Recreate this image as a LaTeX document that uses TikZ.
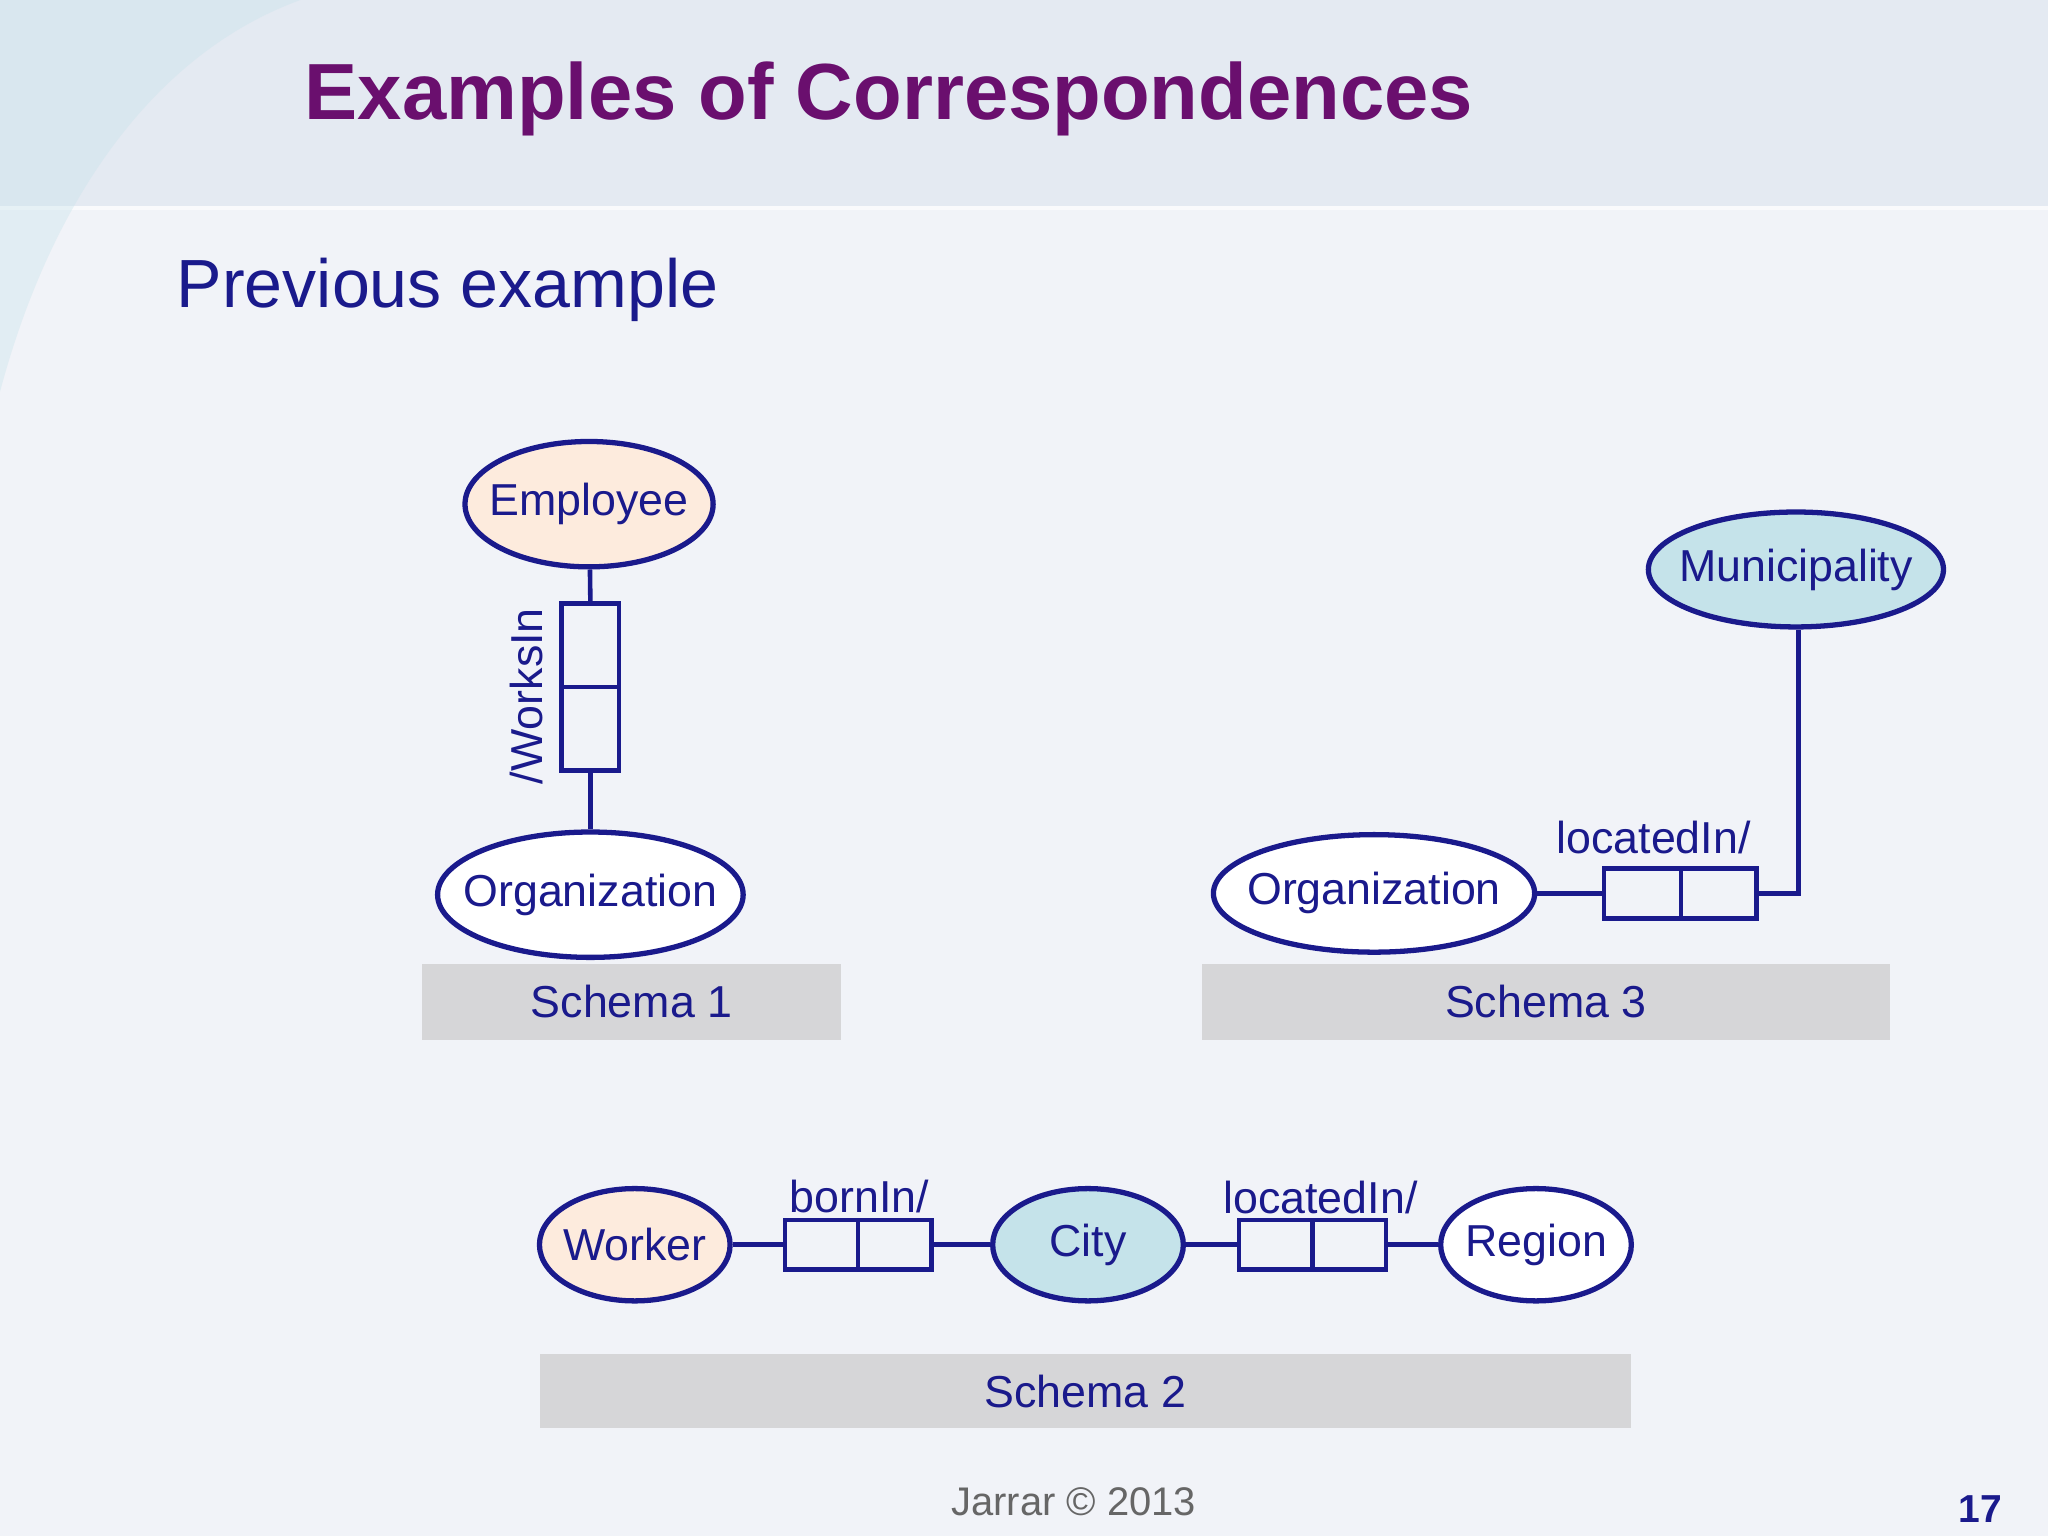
\documentclass[tikz,border=0pt]{standalone}
\usepackage{fontspec}
\setmainfont{Liberation Sans}
\usetikzlibrary{shapes.geometric}
\definecolor{navy}{HTML}{1A1A8C}
\definecolor{ttl}{HTML}{6A0F6E}
\definecolor{peach}{HTML}{FDEBDD}
\definecolor{lblue}{HTML}{C5E3EA}
\definecolor{bg}{HTML}{F1F3F8}
\definecolor{band}{HTML}{E4EAF2}
\definecolor{gbar}{HTML}{D6D6D8}
\tikzset{
 ent/.style={ellipse,draw=navy,line width=2.3pt,inner xsep=-20pt,inner ysep=-8pt,text=navy,font=\fontsize{19.5}{22}\selectfont},
 cellh/.style={rectangle,draw=navy,line width=2pt,minimum width=1.12cm,minimum height=0.76cm,inner sep=0},
 cellv/.style={rectangle,draw=navy,line width=2pt,minimum width=0.88cm,minimum height=1.28cm,inner sep=0},
 conn/.style={draw=navy,line width=2pt},
 lbl/.style={text=navy,font=\fontsize{19.5}{22}\selectfont,inner sep=0},
 schema/.style={fill=gbar,text=navy,font=\fontsize{19.5}{22}\selectfont,inner sep=0}
}
\begin{document}
\begin{tikzpicture}[x=0.02cm,y=-0.02cm]
\fill[bg] (0,0) rectangle (1568,1176);
\fill[band] (0,0) rectangle (1568,158);
\fill[white,opacity=0.6] (0,158) rectangle (1568,161);
\fill[lblue,opacity=0.35] (0,300) .. controls (40,150) and (120,40) .. (230,0) -- (0,0) -- cycle;
\node[text=ttl,font=\bfseries\fontsize{34.7}{40}\selectfont,anchor=west,inner sep=0] (title) at (233,76) {Examples of Correspondences};
\node[text=navy,font=\fontsize{29.7}{34}\selectfont,anchor=west,inner sep=0] (sub) at (135,222) {Previous example};
% Schema 1
\node[ent,fill=peach,minimum width=3.8cm,minimum height=1.92cm] (emp) at (451,386) {Employee};
\node[ent,fill=white,minimum width=4.68cm,minimum height=1.92cm] (org1) at (452,685) {Organization};
\node[cellv] (w1) at (452,494) {};
\node[cellv] (w2) at (452,558) {};
\draw[conn] (emp) -- (w1.north);
\draw[conn] (w2.south) -- (org1);
\node[lbl,rotate=90] (wl) at (403,533) {/WorksIn};
\node[schema,minimum width=6.42cm,minimum height=1.16cm] (s1) at (483.5,767) {Schema 1};
% Schema 3
\node[ent,fill=lblue,minimum width=4.52cm,minimum height=1.76cm] (mun) at (1375,436) {Municipality};
\node[ent,fill=white,minimum width=4.92cm,minimum height=1.8cm] (org3) at (1052,684) {Organization};
\node[cellh,minimum width=1.18cm] (l1) at (1257.5,684) {};
\node[cellh,minimum width=1.16cm] (l2) at (1316,684) {};
\coordinate (corner) at (1377,684);
\draw[conn] (org3) -- (l1.west);
\draw[conn] (l2.east) -- (corner) -- (mun.south -| corner);
\node[lbl] (ll1) at (1266,641) {locatedIn/};
\node[schema,minimum width=10.54cm,minimum height=1.16cm] (s3) at (1183.5,767) {Schema 3};
% Schema 2
\node[ent,fill=peach,minimum width=2.92cm,minimum height=1.72cm] (wk) at (486,953) {Worker};
\node[ent,fill=lblue,minimum width=2.92cm,minimum height=1.72cm] (city) at (833,953) {City};
\node[ent,fill=white,minimum width=2.92cm,minimum height=1.72cm] (reg) at (1176,953) {Region};
\node[cellh] (b1) at (629,953) {};
\node[cellh] (b2) at (685,953) {};
\node[cellh] (c1) at (976.5,953) {};
\node[cellh] (c2) at (1033,953) {};
\draw[conn] (wk) -- (b1.west);
\draw[conn] (b2.east) -- (city);
\draw[conn] (city) -- (c1.west);
\draw[conn] (c2.east) -- (reg);
\node[lbl] (bl) at (658,916) {bornIn/};
\node[lbl] (cl) at (1011,917) {locatedIn/};
\node[schema,minimum width=16.72cm,minimum height=1.12cm] (s2) at (831,1065) {Schema 2};
% footer
\node[text=gray!80!black,font=\fontsize{17.4}{20}\selectfont,inner sep=0] (foot) at (822,1150) {Jarrar © 2013};
\node[text=navy,font=\bfseries\fontsize{17}{20}\selectfont,inner sep=0] (pg) at (1516,1155) {17};
\end{tikzpicture}
\end{document}
